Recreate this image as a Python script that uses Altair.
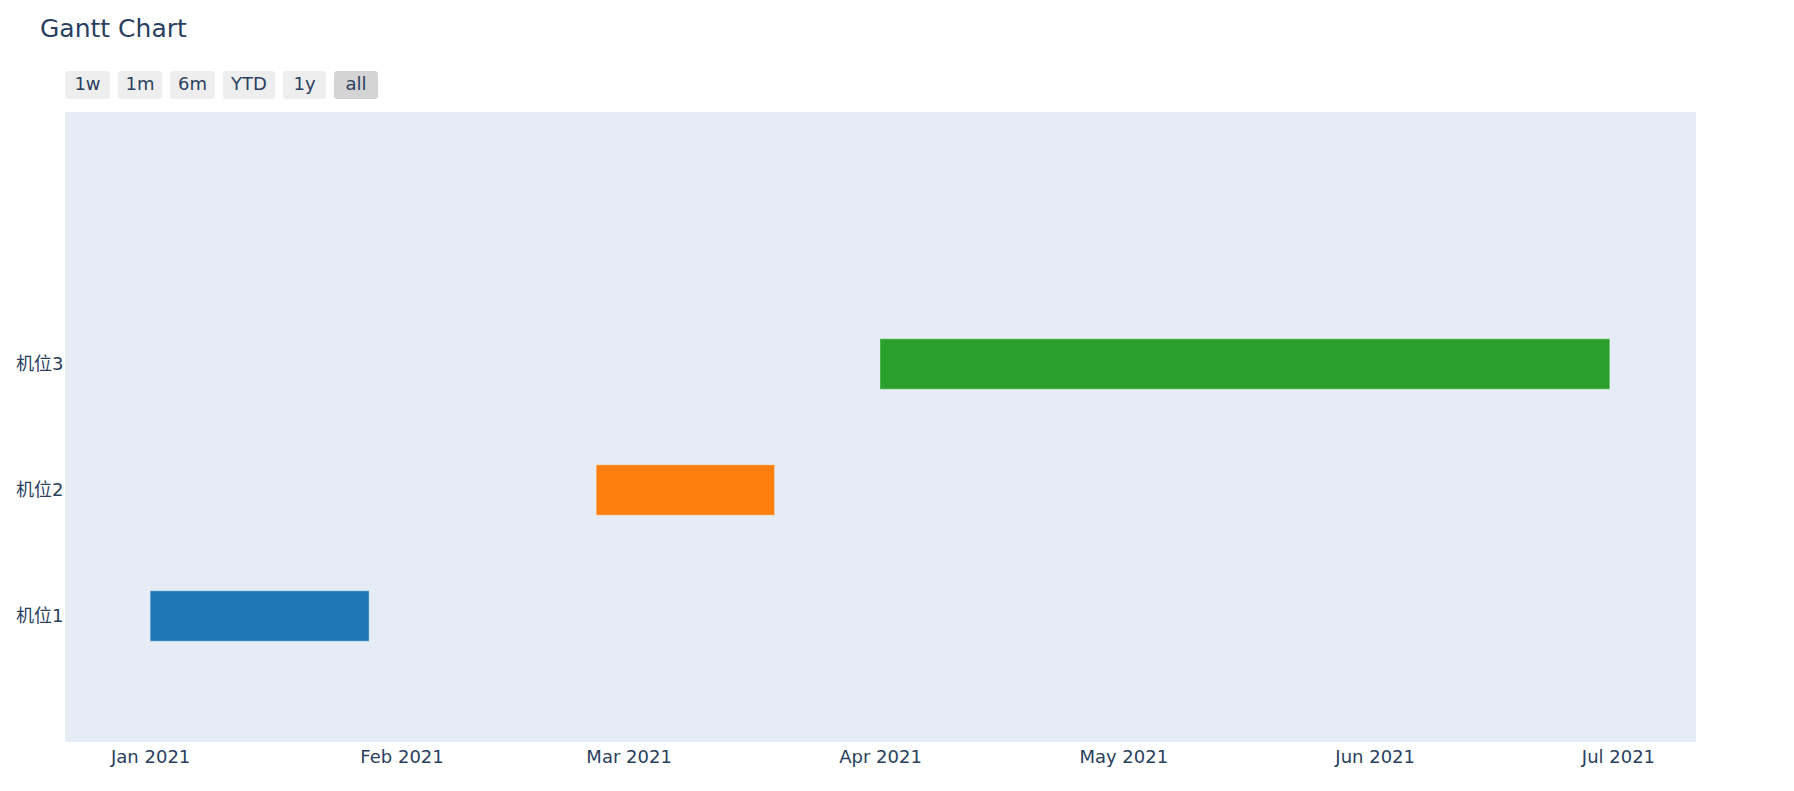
import json
import pandas as pd
import altair as alt

# ---------------- data ----------------
tasks = ["机位1", "机位2", "机位3"]
starts = ["2021-01-01", "2021-02-25", "2021-04-01"]
ends = ["2021-01-28", "2021-03-19", "2021-06-30"]
colors = ["#1f77b4", "#ff7f0e", "#2ca02c"]
tick_dates = ["2021-01-01", "2021-02-01", "2021-03-01", "2021-04-01",
              "2021-05-01", "2021-06-01", "2021-07-01"]
x_range = ["2020-12-21T12:00:00Z", "2021-07-10T15:00:00Z"]
y_range = [-1, 4]
button_labels = ["1w", "1m", "6m", "YTD", "1y", "all"]
active_button = "all"
title_text = "Gantt Chart"

# ---------------- layout / style ----------------
FONT = "DejaVu Sans, Noto Sans CJK SC, sans-serif"
TEXT_COLOR = "#2a3f5f"
PLOT_BG = "#E5ECF6"
BAR_HALF = 0.2
PLOT_W, PLOT_H = 1631, 630
button_widths = [45, 44, 45, 52, 43, 44]
button_gap = 8


def ms(s):
    return int(pd.Timestamp(s).tz_localize("UTC").value // 10**6) if pd.Timestamp(s).tzinfo is None \
        else int(pd.Timestamp(s).value // 10**6)


df = pd.DataFrame({"task": tasks, "start": starts, "end": ends})
df["row"] = range(len(tasks))
df["lo"] = df["row"] - BAR_HALF
df["hi"] = df["row"] + BAR_HALF

x_dom = [ms(s) for s in x_range]
tick_ms = [ms(s) for s in tick_dates]
y_label_expr = json.dumps(tasks, ensure_ascii=False) + "[datum.value]"

bars = alt.Chart(df).mark_rect(stroke="white", strokeWidth=1, strokeOpacity=0.35).encode(
    x=alt.X("start:T",
            scale=alt.Scale(type="utc", domain=x_dom, nice=False),
            axis=alt.Axis(values=tick_ms, labelExpr="utcFormat(datum.value, '%b %Y')",
                          title=None, grid=False, domain=False, ticks=False,
                          labelFontSize=18, labelColor=TEXT_COLOR, labelFont=FONT,
                          labelPadding=6, labelFlush=False, labelOverlap=False)),
    x2="end:T",
    y=alt.Y("lo:Q",
            scale=alt.Scale(domain=y_range, nice=False, zero=False),
            axis=alt.Axis(values=list(range(len(tasks))), labelExpr=y_label_expr,
                          title=None, grid=False, domain=False, ticks=False,
                          labelFontSize=18, labelColor=TEXT_COLOR, labelFont=FONT,
                          labelPadding=2)),
    y2="hi:Q",
    color=alt.Color("task:N", scale=alt.Scale(domain=tasks, range=colors), legend=None),
)

layers = [bars]

# range selector buttons
x0 = 0
for lab, w in zip(button_labels, button_widths):
    bdf = pd.DataFrame({"label": [lab]})
    fill = "#d4d4d4" if lab == active_button else "#eeeeee"
    rect = alt.Chart(bdf).mark_rect(cornerRadius=3, fill=fill).encode(
        x=alt.value(x0), x2=alt.value(x0 + w), y=alt.value(-41), y2=alt.value(-13))
    txt = alt.Chart(bdf).mark_text(font=FONT, fontSize=18, color=TEXT_COLOR,
                                   align="center", baseline="middle").encode(
        x=alt.value(x0 + w / 2), y=alt.value(-27), text="label:N")
    layers += [rect, txt]
    x0 += w + button_gap

title = alt.Chart(pd.DataFrame({"t": [title_text]})).mark_text(
    font=FONT, fontSize=25, color=TEXT_COLOR, align="left", baseline="alphabetic").encode(
    x=alt.value(-25), y=alt.value(-75), text="t:N")
layers.append(title)

chart = alt.layer(*layers).properties(
    width=PLOT_W, height=PLOT_H,
    padding={"left": 57, "top": 104, "right": 80, "bottom": 30},
    autosize=alt.AutoSizeParams(type="none"),
    background="white",
).configure_view(fill=PLOT_BG, strokeWidth=0)

chart.save("out.html", embed_options={"renderer": "svg", "actions": False})
